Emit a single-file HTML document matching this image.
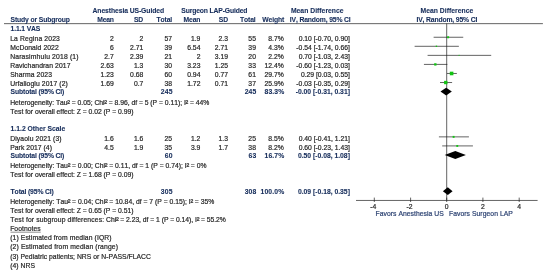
<!DOCTYPE html>
<html><head><meta charset="utf-8"><title>Forest plot</title>
<style>
html,body{margin:0;padding:0;background:#fff;}
#w{position:relative;width:550px;height:274px;overflow:hidden;background:#fff;font-family:"Liberation Sans",Arial,sans-serif;font-size:6.79px;line-height:1;color:#262626;font-kerning:none;}
.t{position:absolute;white-space:nowrap;line-height:1;-webkit-text-stroke:0.2px currentColor;}
.b{font-weight:bold;-webkit-text-stroke:0.1px currentColor;}
svg{position:absolute;left:0;top:0;}
.s{font-size:1.22em;line-height:0;position:relative;top:0.9px;margin:0 -0.25px;-webkit-text-stroke:0.25px currentColor;}
#tx{position:absolute;left:0;top:0;width:550px;height:274px;filter:blur(0.3px);}
</style></head><body><div id="w">
<svg width="550" height="274" viewBox="0 0 550 274">
<line x1="10.50" y1="232.2" x2="40.76" y2="232.2" stroke="#444" stroke-width="0.6"/>
<line x1="4" y1="23.65" x2="542.9" y2="23.65" stroke="#1a1a1a" stroke-width="0.68"/>
<line x1="446.7" y1="23.5" x2="446.7" y2="200.2" stroke="#1a1a1a" stroke-width="0.68"/>
<line x1="356" y1="200.45" x2="537.6" y2="200.45" stroke="#1a1a1a" stroke-width="0.68"/>
<line x1="374.30" y1="197.6" x2="374.30" y2="202.0" stroke="#1a1a1a" stroke-width="0.68"/>
<line x1="410.60" y1="197.6" x2="410.60" y2="202.0" stroke="#1a1a1a" stroke-width="0.68"/>
<line x1="446.70" y1="197.6" x2="446.70" y2="202.0" stroke="#1a1a1a" stroke-width="0.68"/>
<line x1="482.90" y1="197.6" x2="482.90" y2="202.0" stroke="#1a1a1a" stroke-width="0.68"/>
<line x1="519.20" y1="197.6" x2="519.20" y2="202.0" stroke="#1a1a1a" stroke-width="0.68"/>
<line x1="433.61" y1="37.25" x2="463.24" y2="37.25" stroke="#1a1a1a" stroke-width="0.68"/>
<rect x="447.15" y="36.28" width="1.95" height="1.95" fill="#12c412"/>
<line x1="414.61" y1="46.31" x2="458.86" y2="46.31" stroke="#1a1a1a" stroke-width="0.68"/>
<rect x="435.75" y="45.62" width="1.37" height="1.37" fill="#12c412"/>
<line x1="427.58" y1="55.36" x2="491.20" y2="55.36" stroke="#1a1a1a" stroke-width="0.68"/>
<rect x="458.59" y="54.86" width="1.00" height="1.00" fill="#12c412"/>
<line x1="423.93" y1="64.42" x2="447.35" y2="64.42" stroke="#1a1a1a" stroke-width="0.68"/>
<rect x="434.18" y="63.26" width="2.32" height="2.32" fill="#12c412"/>
<line x1="446.95" y1="73.47" x2="456.85" y2="73.47" stroke="#1a1a1a" stroke-width="0.68"/>
<rect x="449.80" y="71.68" width="3.60" height="3.60" fill="#12c412"/>
<line x1="440.01" y1="82.53" x2="452.10" y2="82.53" stroke="#1a1a1a" stroke-width="0.68"/>
<rect x="444.07" y="80.85" width="3.36" height="3.36" fill="#12c412"/>
<line x1="438.91" y1="136.87" x2="468.91" y2="136.87" stroke="#1a1a1a" stroke-width="0.68"/>
<rect x="452.65" y="135.90" width="1.92" height="1.92" fill="#12c412"/>
<line x1="442.20" y1="145.92" x2="472.93" y2="145.92" stroke="#1a1a1a" stroke-width="0.68"/>
<rect x="456.32" y="144.98" width="1.89" height="1.89" fill="#12c412"/>
<polygon points="440.50,91.59 446.16,87.69 451.82,91.59 446.16,95.49" fill="#000"/>
<polygon points="444.70,154.98 455.30,151.08 465.89,154.98 455.30,158.88" fill="#000"/>
<polygon points="442.87,191.20 447.80,187.30 452.56,191.20 447.80,195.10" fill="#000"/>
</svg>
<div id="tx">
<div class="t b" style="top:8px;left:92.50px;color:#152c5a;letter-spacing:-0.080px;">Anesthesia US-Guided</div>
<div class="t b" style="top:8px;left:181.30px;color:#152c5a;letter-spacing:-0.145px;">Surgeon LAP-Guided</div>
<div class="t b" style="top:8px;left:290.90px;color:#152c5a;letter-spacing:0.023px;">Mean Difference</div>
<div class="t b" style="top:8px;left:420.50px;color:#152c5a;letter-spacing:0.023px;">Mean Difference</div>
<div class="t b" style="top:17px;left:10.60px;color:#152c5a;letter-spacing:-0.134px;">Study or Subgroup</div>
<div class="t b" style="top:17px;right:436.16px;color:#152c5a;letter-spacing:-0.165px;">Mean</div>
<div class="t b" style="top:17px;right:406.98px;color:#152c5a;letter-spacing:-0.179px;">SD</div>
<div class="t b" style="top:17px;right:377.92px;color:#152c5a;letter-spacing:-0.123px;">Total</div>
<div class="t b" style="top:17px;right:349.76px;color:#152c5a;letter-spacing:-0.165px;">Mean</div>
<div class="t b" style="top:17px;right:322.08px;color:#152c5a;letter-spacing:-0.179px;">SD</div>
<div class="t b" style="top:17px;right:294.42px;color:#152c5a;letter-spacing:-0.123px;">Total</div>
<div class="t b" style="top:17px;right:265.94px;color:#152c5a;letter-spacing:-0.143px;">Weight</div>
<div class="t b" style="top:17px;left:289.80px;color:#152c5a;letter-spacing:-0.144px;">IV, Random, 95% CI</div>
<div class="t b" style="top:17px;left:416.50px;color:#152c5a;letter-spacing:-0.144px;">IV, Random, 95% CI</div>
<div class="t b" style="top:26px;left:10.60px;color:#152c5a;letter-spacing:-0.150px;">1.1.1 VAS</div>
<div class="t" style="top:36px;left:10.20px;letter-spacing:0.133px;">La Regina 2023</div>
<div class="t" style="top:36px;right:436.30px;">2</div>
<div class="t" style="top:36px;right:406.70px;">2</div>
<div class="t" style="top:36px;right:378.00px;">57</div>
<div class="t" style="top:36px;right:349.60px;">1.9</div>
<div class="t" style="top:36px;right:322.00px;">2.3</div>
<div class="t" style="top:36px;right:294.10px;">55</div>
<div class="t" style="top:36px;right:266.20px;">8.7%</div>
<div class="t" style="top:36px;right:200.10px;">0.10 [-0.70, 0.90]</div>
<div class="t" style="top:45px;left:10.20px;letter-spacing:0.088px;">McDonald 2022</div>
<div class="t" style="top:45px;right:436.30px;">6</div>
<div class="t" style="top:45px;right:406.70px;">2.71</div>
<div class="t" style="top:45px;right:378.00px;">39</div>
<div class="t" style="top:45px;right:349.60px;">6.54</div>
<div class="t" style="top:45px;right:322.00px;">2.71</div>
<div class="t" style="top:45px;right:294.10px;">39</div>
<div class="t" style="top:45px;right:266.20px;">4.3%</div>
<div class="t" style="top:45px;right:200.10px;">-0.54 [-1.74, 0.66]</div>
<div class="t" style="top:54px;left:10.20px;letter-spacing:0.165px;">Narasimhulu 2018 (1)</div>
<div class="t" style="top:54px;right:436.30px;">2.7</div>
<div class="t" style="top:54px;right:406.70px;">2.39</div>
<div class="t" style="top:54px;right:378.00px;">21</div>
<div class="t" style="top:54px;right:349.60px;">2</div>
<div class="t" style="top:54px;right:322.00px;">3.19</div>
<div class="t" style="top:54px;right:294.10px;">20</div>
<div class="t" style="top:54px;right:266.20px;">2.2%</div>
<div class="t" style="top:54px;right:200.10px;">0.70 [-1.03, 2.43]</div>
<div class="t" style="top:63px;left:10.20px;letter-spacing:0.088px;">Ravichandran 2017</div>
<div class="t" style="top:63px;right:436.30px;">2.63</div>
<div class="t" style="top:63px;right:406.70px;">1.3</div>
<div class="t" style="top:63px;right:378.00px;">30</div>
<div class="t" style="top:63px;right:349.60px;">3.23</div>
<div class="t" style="top:63px;right:322.00px;">1.25</div>
<div class="t" style="top:63px;right:294.10px;">33</div>
<div class="t" style="top:63px;right:266.20px;">12.4%</div>
<div class="t" style="top:63px;right:200.10px;">-0.60 [-1.23, 0.03]</div>
<div class="t" style="top:72px;left:10.20px;letter-spacing:0.102px;">Sharma 2023</div>
<div class="t" style="top:72px;right:436.30px;">1.23</div>
<div class="t" style="top:72px;right:406.70px;">0.68</div>
<div class="t" style="top:72px;right:378.00px;">60</div>
<div class="t" style="top:72px;right:349.60px;">0.94</div>
<div class="t" style="top:72px;right:322.00px;">0.77</div>
<div class="t" style="top:72px;right:294.10px;">61</div>
<div class="t" style="top:72px;right:266.20px;">29.7%</div>
<div class="t" style="top:72px;right:200.10px;">0.29 [0.03, 0.55]</div>
<div class="t" style="top:81px;left:10.20px;letter-spacing:0.099px;">Urfalioglu 2017 (2)</div>
<div class="t" style="top:81px;right:436.30px;">1.69</div>
<div class="t" style="top:81px;right:406.70px;">0.7</div>
<div class="t" style="top:81px;right:378.00px;">38</div>
<div class="t" style="top:81px;right:349.60px;">1.72</div>
<div class="t" style="top:81px;right:322.00px;">0.71</div>
<div class="t" style="top:81px;right:294.10px;">37</div>
<div class="t" style="top:81px;right:266.20px;">25.9%</div>
<div class="t" style="top:81px;right:200.10px;">-0.03 [-0.35, 0.29]</div>
<div class="t b" style="top:89px;left:10.60px;color:#152c5a;letter-spacing:-0.125px;">Subtotal (95% CI)</div>
<div class="t b" style="top:89px;right:377.41px;color:#152c5a;letter-spacing:0.186px;">245</div>
<div class="t b" style="top:89px;right:293.51px;color:#152c5a;letter-spacing:0.186px;">245</div>
<div class="t b" style="top:89px;right:265.69px;color:#152c5a;letter-spacing:0.111px;">83.3%</div>
<div class="t b" style="top:89px;right:200.10px;color:#152c5a;">-0.00 [-0.31, 0.31]</div>
<div class="t" style="top:100px;left:10.20px;letter-spacing:-0.014px;">Heterogeneity: Tau<span class="s">²</span> = 0.05; Chi<span class="s">²</span> = 8.96, df = 5 (P = 0.11); I<span class="s">²</span> = 44%</div>
<div class="t" style="top:109px;left:10.20px;letter-spacing:-0.018px;">Test for overall effect: Z = 0.02 (P = 0.99)</div>
<div class="t b" style="top:126px;left:10.60px;color:#152c5a;">1.1.2 Other Scale</div>
<div class="t" style="top:136px;left:10.20px;letter-spacing:0.105px;">Diyaolu 2021 (3)</div>
<div class="t" style="top:136px;right:436.30px;">1.6</div>
<div class="t" style="top:136px;right:406.70px;">1.6</div>
<div class="t" style="top:136px;right:378.00px;">25</div>
<div class="t" style="top:136px;right:349.60px;">1.2</div>
<div class="t" style="top:136px;right:322.00px;">1.3</div>
<div class="t" style="top:136px;right:294.10px;">25</div>
<div class="t" style="top:136px;right:266.20px;">8.5%</div>
<div class="t" style="top:136px;right:200.10px;">0.40 [-0.41, 1.21]</div>
<div class="t" style="top:145px;left:10.20px;letter-spacing:0.057px;">Park 2017 (4)</div>
<div class="t" style="top:145px;right:436.30px;">4.5</div>
<div class="t" style="top:145px;right:406.70px;">1.9</div>
<div class="t" style="top:145px;right:378.00px;">35</div>
<div class="t" style="top:145px;right:349.60px;">3.9</div>
<div class="t" style="top:145px;right:322.00px;">1.7</div>
<div class="t" style="top:145px;right:294.10px;">38</div>
<div class="t" style="top:145px;right:266.20px;">8.2%</div>
<div class="t" style="top:145px;right:200.10px;">0.60 [-0.23, 1.43]</div>
<div class="t b" style="top:153px;left:10.60px;color:#152c5a;letter-spacing:-0.125px;">Subtotal (95% CI)</div>
<div class="t b" style="top:153px;right:377.41px;color:#152c5a;letter-spacing:0.186px;">60</div>
<div class="t b" style="top:153px;right:293.51px;color:#152c5a;letter-spacing:0.186px;">63</div>
<div class="t b" style="top:153px;right:265.69px;color:#152c5a;letter-spacing:0.111px;">16.7%</div>
<div class="t b" style="top:153px;right:200.10px;color:#152c5a;">0.50 [-0.08, 1.08]</div>
<div class="t" style="top:163px;left:10.20px;">Heterogeneity: Tau<span class="s">²</span> = 0.00; Chi<span class="s">²</span> = 0.11, df = 1 (P = 0.74); I<span class="s">²</span> = 0%</div>
<div class="t" style="top:172px;left:10.20px;letter-spacing:-0.018px;">Test for overall effect: Z = 1.68 (P = 0.09)</div>
<div class="t b" style="top:189px;left:10.60px;color:#152c5a;letter-spacing:-0.122px;">Total (95% CI)</div>
<div class="t b" style="top:189px;right:377.41px;color:#152c5a;letter-spacing:0.186px;">305</div>
<div class="t b" style="top:189px;right:293.51px;color:#152c5a;letter-spacing:0.186px;">308</div>
<div class="t b" style="top:189px;right:265.68px;color:#152c5a;letter-spacing:0.124px;">100.0%</div>
<div class="t b" style="top:189px;right:200.10px;color:#152c5a;">0.09 [-0.18, 0.35]</div>
<div class="t" style="top:199px;left:10.20px;letter-spacing:0.005px;">Heterogeneity: Tau<span class="s">²</span> = 0.04; Chi<span class="s">²</span> = 10.84, df = 7 (P = 0.15); I<span class="s">²</span> = 35%</div>
<div class="t" style="top:208px;left:10.20px;letter-spacing:-0.018px;">Test for overall effect: Z = 0.65 (P = 0.51)</div>
<div class="t" style="top:217px;left:10.20px;"><span style="letter-spacing:0.131px">Test for subgroup differences:</span><span style="letter-spacing:-0.030px"> Chi<span class="s">²</span> = 2.23, df = 1 (P = 0.14), I<span class="s">²</span> = 55.2%</span></div>
<div class="t" style="top:226px;left:10.20px;letter-spacing:0.041px;">Footnotes</div>
<div class="t" style="top:235px;left:10.20px;letter-spacing:0.099px;">(1) Estimated from median (IQR)</div>
<div class="t" style="top:244px;left:10.20px;letter-spacing:0.129px;">(2) Estimated from median (range)</div>
<div class="t" style="top:254px;left:10.20px;letter-spacing:0.031px;">(3) Pediatric patients; NRS or N-PASS/FLACC</div>
<div class="t" style="top:263px;left:10.20px;letter-spacing:0.055px;">(4) NRS</div>
<div class="t" style="top:204px;left:370.18px;">-4</div>
<div class="t" style="top:204px;left:406.48px;">-2</div>
<div class="t" style="top:204px;left:444.81px;">0</div>
<div class="t" style="top:204px;left:481.01px;">2</div>
<div class="t" style="top:204px;left:517.31px;">4</div>
<div class="t" style="top:211px;right:106.15px;color:#2c4272;letter-spacing:0.047px;">Favors Anesthesia US</div>
<div class="t" style="top:211px;left:449.00px;color:#2c4272;letter-spacing:0.052px;">Favors Surgeon LAP</div>
</div>
</div></body></html>
